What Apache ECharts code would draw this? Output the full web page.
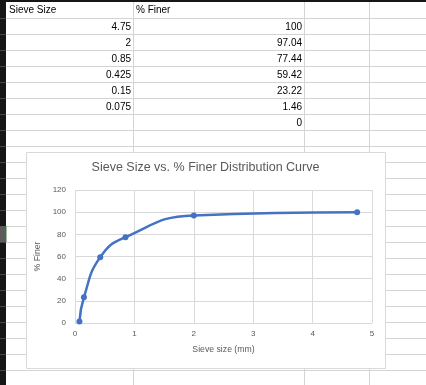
<!DOCTYPE html>
<html><head><meta charset="utf-8">
<script src="https://cdn.jsdelivr.net/npm/echarts@6/dist/echarts.min.js"></script>
<style>html,body{margin:0;padding:0;background:#fff;overflow:hidden}#c{width:426px;height:385px}</style>
</head><body><div id="c"></div>
<script>
// ---- data ----
const tableHeaders = ['Sieve Size', '% Finer'];
const sieveSizes = [4.75, 2, 0.85, 0.425, 0.15, 0.075, null];
const percentFiner = [100, 97.04, 77.44, 59.42, 23.22, 1.46, 0];
const chartTitle = 'Sieve Size vs. % Finer Distribution Curve';
const xAxisTitle = 'Sieve size (mm)';
const yAxisTitle = '% Finer';
const xTickMin = 0, xTickMax = 5, xTickStep = 1;
const yTickMin = 0, yTickMax = 120, yTickStep = 20;

// ---- build ----
const W = 426, H = 385;
const rowTop = 18, rowH = 16.01;
const gridColor = '#d4d4d4';
const els = [];
// left row-header strip & top bar
els.push({type:'rect', z:0, shape:{x:0,y:0,width:6,height:H}, style:{fill:'#161616'}});
els.push({type:'rect', z:0, shape:{x:0,y:0,width:W,height:2}, style:{fill:'#161616'}});
// horizontal cell lines
for (let k = 0; ; k++) {
  const y = Math.floor(rowTop + rowH * k) + 0.5;
  if (y > H) break;
  els.push({type:'line', z:0, shape:{x1:6,y1:y,x2:W,y2:y}, style:{stroke:gridColor,lineWidth:1}});
  els.push({type:'line', z:0, shape:{x1:0,y1:y,x2:6,y2:y}, style:{stroke:'#444',lineWidth:1}});
}
// selected row header highlight
els.push({type:'rect', z:0, shape:{x:0,y:226,width:5,height:16}, style:{fill:'#5b5b5b'}});
els.push({type:'rect', z:0, shape:{x:5,y:226,width:1.5,height:16}, style:{fill:'#2e7d32'}});
// vertical cell lines
[133.5, 304.5, 369.5].forEach(x => {
  els.push({type:'line', z:0, shape:{x1:x,y1:2,x2:x,y2:H}, style:{stroke:gridColor,lineWidth:1}});
});
// table text
const font = '10px "Liberation Sans", Arial, sans-serif';
els.push({type:'text', z:1, style:{text:tableHeaders[0], x:9, y:10.5, verticalAlign:'middle', font, fill:'#000'}});
els.push({type:'text', z:1, style:{text:tableHeaders[1], x:136, y:10.5, verticalAlign:'middle', font, fill:'#000'}});
for (let i = 0; i < percentFiner.length; i++) {
  const y = rowTop + rowH * i + 9;
  if (sieveSizes[i] !== null) {
    els.push({type:'text', z:1, style:{text:String(sieveSizes[i]), x:131, y, align:'right', verticalAlign:'middle', font, fill:'#000'}});
  }
  els.push({type:'text', z:1, style:{text:String(percentFiner[i]), x:302, y, align:'right', verticalAlign:'middle', font, fill:'#000'}});
}
// chart area box
els.push({type:'rect', z:2, shape:{x:26.5,y:152.5,width:359,height:216}, style:{fill:'#fff', stroke:'#d9d9d9', lineWidth:1}});

const points = [];
for (let i = 0; i < sieveSizes.length; i++) {
  if (sieveSizes[i] !== null) points.push([sieveSizes[i], percentFiner[i]]);
}
points.sort((a, b) => a[0] - b[0]);

const txt = '#595959';
const ff = '"Liberation Sans", Arial, sans-serif';
const chart = echarts.init(document.getElementById('c'), null, {renderer:'canvas'});
chart.setOption({
  animation: false,
  backgroundColor: '#fff',
  graphic: {elements: els},
  title: {
    text: chartTitle, left: 205.5, top: 161, padding: 0, textAlign: 'center', z: 10,
    textStyle: {color: txt, fontSize: 12.5, fontWeight: 'normal', fontFamily: ff}
  },
  grid: {left: 75, top: 190, width: 297, height: 133, containLabel: false},
  xAxis: {
    type: 'value', min: xTickMin, max: xTickMax, interval: xTickStep, z: 5,
    name: xAxisTitle, nameLocation: 'middle', nameGap: 22,
    nameTextStyle: {color: txt, fontSize: 8.7, fontFamily: ff},
    axisLine: {show: false}, axisTick: {show: false},
    axisLabel: {color: txt, fontSize: 8, fontFamily: ff, margin: 7},
    splitLine: {show: true, lineStyle: {color: '#d9d9d9', width: 1}}
  },
  yAxis: {
    type: 'value', min: yTickMin, max: yTickMax, interval: yTickStep, z: 5,
    name: yAxisTitle, nameLocation: 'middle', nameGap: 26,
    nameTextStyle: {color: txt, fontSize: 8.7, fontFamily: ff},
    axisLine: {show: false}, axisTick: {show: false},
    axisLabel: {color: txt, fontSize: 8, fontFamily: ff, margin: 9},
    splitLine: {show: true, lineStyle: {color: '#d9d9d9', width: 1}}
  },
  series: [{
    type: 'line', z: 10, data: points, smooth: 0.5,
    symbol: 'circle', symbolSize: 6, showSymbol: true,
    lineStyle: {color: '#4472c4', width: 2.5},
    itemStyle: {color: '#4472c4'}
  }]
});
</script></body></html>
